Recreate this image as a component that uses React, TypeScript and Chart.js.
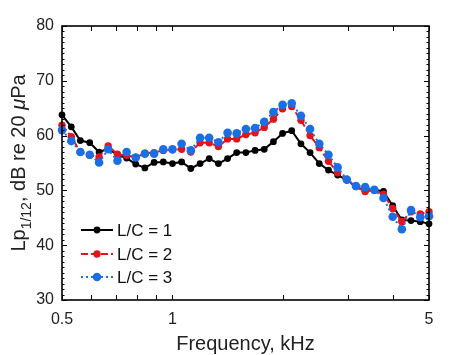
import React, { useEffect, useRef } from "react";
import { Chart, registerables } from "chart.js";

Chart.register(...registerables);

const FREQ_KHZ = [0.5, 0.53, 0.561, 0.595, 0.631, 0.668, 0.708, 0.75, 0.794, 0.841, 0.891, 0.944, 1.0, 1.059, 1.122, 1.189, 1.259, 1.334, 1.413, 1.496, 1.585, 1.679, 1.778, 1.884, 1.995, 2.113, 2.239, 2.371, 2.512, 2.661, 2.818, 2.985, 3.162, 3.35, 3.548, 3.758, 3.981, 4.217, 4.467, 4.732, 5.0];
const LC1 = [63.8, 61.6, 59.1, 58.7, 57.0, 57.6, 56.5, 55.9, 54.8, 54.1, 55.1, 55.2, 54.9, 55.2, 54.0, 54.9, 55.8, 54.9, 55.8, 56.9, 56.9, 57.3, 57.5, 58.9, 60.4, 60.9, 58.5, 56.9, 54.9, 53.7, 52.8, 51.9, 50.7, 49.9, 50.1, 49.8, 47.2, 44.6, 44.5, 44.3, 43.9];
const LC2 = [61.9, 59.8, 57.0, 56.4, 56.1, 58.1, 56.6, 56.4, 56.0, 56.8, 56.9, 57.3, 57.4, 57.5, 57.0, 58.7, 58.7, 58.0, 59.4, 59.4, 60.2, 60.5, 61.5, 63.0, 64.9, 65.3, 62.8, 60.0, 57.8, 55.3, 53.2, 51.9, 50.7, 49.8, 50.1, 49.3, 46.7, 44.3, 46.1, 45.7, 46.1];
const LC3 = [61.0, 59.0, 57.0, 56.5, 55.1, 57.5, 55.4, 57.0, 56.0, 56.7, 56.7, 57.5, 57.5, 58.5, 57.3, 59.6, 59.6, 58.8, 60.5, 60.4, 61.2, 61.4, 62.5, 64.3, 65.6, 65.9, 63.6, 61.2, 58.5, 56.5, 54.2, 52.0, 50.8, 50.6, 50.1, 48.6, 45.2, 42.9, 46.4, 45.1, 45.3];

const SERIES_LABELS = ["L/C = 1", "L/C = 2", "L/C = 3"];
const X_TICKS = [0.5, 1, 5];
const X_MINOR = [0.6, 0.7, 0.8, 0.9, 2, 3, 4];
const Y_MIN = 30;
const Y_MAX = 80;
const X_TITLE = "Frequency, kHz";

const FONT = "'Liberation Sans', Arial, sans-serif";
const COLORS = ["#000000", "#e2141a", "#1b6fe6"];
const DASHES = [[], [7, 3], [2, 3]];
const RADII = [3.4, 3.7, 4.3];

const boxPlugin = {
  id: "boxTicks",
  afterDatasetsDraw(chart: any) {
    const { ctx, chartArea: a, scales } = chart;
    const xs = scales.x;
    const ys = scales.y;
    ctx.save();
    ctx.strokeStyle = "#000";
    ctx.lineWidth = 1;
    ctx.setLineDash([]);
    ctx.beginPath();
    const xt = [...X_TICKS, ...X_MINOR];
    xt.forEach((v) => {
      const px = Math.round(xs.getPixelForValue(v)) + 0.5;
      ctx.moveTo(px, a.bottom);
      ctx.lineTo(px, a.bottom - 5);
      ctx.moveTo(px, a.top);
      ctx.lineTo(px, a.top + 5);
    });
    for (let v = Y_MIN; v <= Y_MAX; v += 1) {
      const py = Math.round(ys.getPixelForValue(v)) + 0.5;
      const len = v % 10 === 0 ? 5 : 2.5;
      ctx.moveTo(a.left, py);
      ctx.lineTo(a.left + len, py);
      ctx.moveTo(a.right, py);
      ctx.lineTo(a.right - len, py);
    }
    ctx.stroke();
    ctx.lineWidth = 1.6;
    ctx.strokeRect(a.left, a.top, a.right - a.left, a.bottom - a.top);
    ctx.restore();
  },
  afterDraw(chart: any) {
    const { ctx, chartArea: a } = chart;
    ctx.save();
    // legend
    const rows = [230, 254, 277];
    chart.data.datasets.forEach((ds: any, i: number) => {
      const y = rows[i];
      ctx.strokeStyle = COLORS[i];
      ctx.lineWidth = 2;
      ctx.setLineDash(DASHES[i]);
      ctx.beginPath();
      ctx.moveTo(81, y);
      ctx.lineTo(113, y);
      ctx.stroke();
      ctx.setLineDash([]);
      ctx.fillStyle = COLORS[i];
      ctx.beginPath();
      ctx.arc(97, y, RADII[i], 0, Math.PI * 2);
      ctx.fill();
      ctx.fillStyle = "#111";
      ctx.font = `17px ${FONT}`;
      ctx.textAlign = "left";
      ctx.textBaseline = "middle";
      ctx.fillText(ds.label, 117, y + 1);
    });
    // x title
    ctx.fillStyle = "#222";
    ctx.font = `20px ${FONT}`;
    ctx.textAlign = "center";
    ctx.textBaseline = "middle";
    ctx.fillText(X_TITLE, (a.left + a.right) / 2, 344);
    // y title with subscript
    const parts = [
      { t: "Lp", f: `20px ${FONT}`, dy: 0 },
      { t: "1/12", f: `14px ${FONT}`, dy: 6 },
      { t: ", dB re 20 ", f: `20px ${FONT}`, dy: 0 },
      { t: "\u03bc", f: `italic 20px ${FONT}`, dy: 0 },
      { t: "Pa", f: `20px ${FONT}`, dy: 0 },
    ];
    let total = 0;
    parts.forEach((p) => {
      ctx.font = p.f;
      total += ctx.measureText(p.t).width;
    });
    ctx.translate(25, (a.top + a.bottom) / 2);
    ctx.rotate(-Math.PI / 2);
    ctx.textAlign = "left";
    ctx.textBaseline = "alphabetic";
    let x = -total / 2;
    parts.forEach((p) => {
      ctx.font = p.f;
      ctx.fillText(p.t, x, p.dy);
      x += ctx.measureText(p.t).width;
    });
    ctx.restore();
  },
};

export default function App() {
  const ref = useRef<HTMLCanvasElement | null>(null);
  useEffect(() => {
    if (!ref.current) return;
    const series = [LC1, LC2, LC3];
    const chart = new Chart(ref.current, {
      type: "line",
      data: {
        datasets: series.map((s, i) => ({
          label: SERIES_LABELS[i],
          data: FREQ_KHZ.map((f, j) => ({ x: f, y: s[j] })),
          borderColor: COLORS[i],
          backgroundColor: COLORS[i],
          pointBackgroundColor: COLORS[i],
          pointBorderColor: COLORS[i],
          pointBorderWidth: 0,
          pointRadius: RADII[i],
          borderWidth: 2,
          borderDash: DASHES[i],
          tension: 0,
          fill: false,
          clip: false as any,
          order: 2 - i,
        })),
      },
      options: {
        responsive: false,
        animation: false,
        devicePixelRatio: 1,
        layout: { padding: { left: 0, top: 26, right: 45, bottom: 0 } },
        plugins: { legend: { display: false }, tooltip: { enabled: false } },
        scales: {
          x: {
            type: "logarithmic",
            min: 0.5,
            max: 5,
            grid: { display: false, drawTicks: false },
            border: { display: false },
            afterBuildTicks: (axis: any) => {
              axis.ticks = X_TICKS.map((v) => ({ value: v }));
            },
            afterFit: (axis: any) => {
              axis.height = 55;
            },
            ticks: {
              color: "#222",
              font: { family: FONT, size: 16 },
              padding: 10,
              autoSkip: false,
              maxRotation: 0,
              callback: (v: any) => String(v),
            },
          },
          y: {
            type: "linear",
            min: Y_MIN,
            max: Y_MAX,
            grid: { display: false, drawTicks: false },
            border: { display: false },
            afterFit: (axis: any) => {
              axis.width = 62;
            },
            ticks: {
              stepSize: 10,
              color: "#222",
              font: { family: FONT, size: 16 },
              padding: 8,
            },
          },
        },
      },
      plugins: [boxPlugin],
    });
    return () => chart.destroy();
  }, []);
  return (
    <div style={{ position: "absolute", left: 0, top: 0, width: 474, height: 355, background: "#fff" }}>
      <canvas ref={ref} width={474} height={355} style={{ display: "block" }} />
    </div>
  );
}
